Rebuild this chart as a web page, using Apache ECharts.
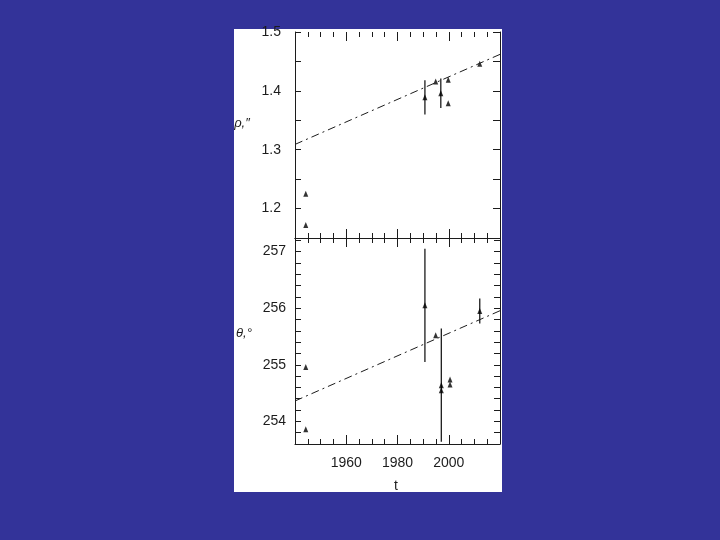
<!DOCTYPE html>
<html>
<head>
<meta charset="utf-8">
<script src="https://cdn.jsdelivr.net/npm/echarts@6/dist/echarts.min.js"></script>
<style>html,body{margin:0;padding:0;background:#333399;}#c{width:720px;height:540px;}</style>
</head>
<body>
<div id="c"></div>
<script>
// ---- data ----
const xTicks = [1960, 1980, 2000];
const rhoTickLabels = [1.2, 1.3, 1.4, 1.5];
const thetaTickLabels = [254, 255, 256, 257];

const rhoYears  = [1944.2, 1944.2, 1990.7, 1994.9, 1996.9, 1999.8, 1999.8, 2012.1];
const rhoValues = [1.225, 1.172, 1.389, 1.416, 1.396, 1.419, 1.379, 1.446];
const rhoErrors = [0, 0, 0.029, 0, 0.025, 0, 0, 0];

const thetaYears  = [1944.2, 1944.2, 1990.7, 1994.9, 1997.1, 1997.1, 2000.5, 2000.5, 2012.1];
const thetaValues = [254.96, 253.86, 256.05, 255.52, 254.64, 254.55, 254.74, 254.65, 255.95];
const thetaErrors = [0, 0, 1.0, 0, 1.0, 0, 0, 0, 0.22];

const fitYears = [1940, 2020];
const rhoFit = [1.309, 1.462];
const thetaFit = [254.36, 255.955];

// ---- chart ----
const ink = '#1c1c1c';
const font = 'Liberation Sans, Arial, sans-serif';
const pairs = (xs, ys) => xs.map((x, i) => [x, ys[i]]);
const triples = (xs, ys, es) => xs.map((x, i) => [x, ys[i], es[i]]).filter(d => d[2] > 0);

function xAxisDef(grid, pos, showLabel, showLine) {
  return {
    type: 'value', gridIndex: grid, position: pos, min: 1940, max: 2020, interval: 20,
    axisLine: {show: showLine, lineStyle: {color: ink, width: 1}},
    axisTick: {show: true, inside: true, length: 9, lineStyle: {color: ink}},
    minorTick: {show: true, splitNumber: 4, length: 5, lineStyle: {color: ink}},
    splitLine: {show: false}, minorSplitLine: {show: false},
    axisLabel: {
      show: showLabel, color: ink, fontSize: 14, fontFamily: font, margin: 12,
      formatter: v => xTicks.indexOf(v) >= 0 ? String(v) : ''
    }
  };
}
function yAxisDef(grid, pos, min, max, interval, tickLen, labels, margin) {
  const a = {
    type: 'value', gridIndex: grid, position: pos, min: min, max: max, interval: interval,
    axisLine: {show: true, lineStyle: {color: ink, width: 1}},
    axisTick: {show: true, inside: true, length: tickLen, lineStyle: {color: ink}},
    splitLine: {show: false},
    axisLabel: {show: false}
  };
  if (labels) {
    a.axisLabel = {
      show: true, color: ink, fontSize: 14, fontFamily: font, margin: margin,
      padding: [5, 0, 0, 0],
      formatter: v => {
        const hit = labels.find(l => Math.abs(l - v) < 1e-6);
        return hit !== undefined ? (Number.isInteger(hit) ? String(hit) : hit.toFixed(1)) : '';
      }
    };
  }
  return a;
}

const errRender = (params, api) => {
  const x = api.value(0), y = api.value(1), e = api.value(2);
  const p1 = api.coord([x, y - e]);
  const p2 = api.coord([x, y + e]);
  return {type: 'line', shape: {x1: p1[0], y1: p1[1], x2: p2[0], y2: p2[1]},
          style: {stroke: ink, lineWidth: 1.3}};
};

const option = {
  backgroundColor: '#333399',
  animation: false,
  graphic: [
    {type: 'rect', z: -10, shape: {x: 234, y: 29, width: 268, height: 463}, style: {fill: '#ffffff'}},
    {type: 'text', style: {text: 'ρ,″', x: 242, y: 123, font: 'italic 13px Liberation Sans, Arial, sans-serif', fill: ink, align: 'center', verticalAlign: 'middle'}},
    {type: 'text', style: {text: 'θ,°', x: 244, y: 333, font: 'italic 13px Liberation Sans, Arial, sans-serif', fill: ink, align: 'center', verticalAlign: 'middle'}},
    {type: 'text', style: {text: 't', x: 396, y: 486, font: '14px Liberation Sans, Arial, sans-serif', fill: ink, align: 'center', verticalAlign: 'middle'}}
  ],
  grid: [
    {left: 295, right: 220, top: 32, height: 206},
    {left: 295, right: 220, top: 238, height: 206}
  ],
  xAxis: [
    xAxisDef(0, 'bottom', false, true),
    xAxisDef(0, 'top', false, false),
    xAxisDef(1, 'bottom', true, true),
    xAxisDef(1, 'top', false, true)
  ],
  yAxis: [
    yAxisDef(0, 'left', 1.15, 1.5, 0.05, 6, rhoTickLabels, 14),
    yAxisDef(0, 'right', 1.15, 1.5, 0.05, 7, null, 0),
    yAxisDef(1, 'left', 253.6, 257.24, 0.2, 6, thetaTickLabels, 9),
    yAxisDef(1, 'right', 253.6, 257.24, 0.2, 6, null, 0)
  ],
  series: [
    {type: 'line', xAxisIndex: 0, yAxisIndex: 0, data: pairs(fitYears, rhoFit), symbol: 'none',
     lineStyle: {color: ink, width: 1, type: [8, 4, 2, 4]}, silent: true},
    {type: 'custom', xAxisIndex: 0, yAxisIndex: 0, data: triples(rhoYears, rhoValues, rhoErrors),
     renderItem: errRender, clip: true, encode: {x: 0, y: 1}},
    {type: 'scatter', xAxisIndex: 0, yAxisIndex: 0, data: pairs(rhoYears, rhoValues),
     symbol: 'triangle', symbolSize: [5, 6], itemStyle: {color: '#000'}},
    {type: 'line', xAxisIndex: 2, yAxisIndex: 2, data: pairs(fitYears, thetaFit), symbol: 'none',
     lineStyle: {color: ink, width: 1, type: [8, 4, 2, 4]}, silent: true},
    {type: 'custom', xAxisIndex: 2, yAxisIndex: 2, data: triples(thetaYears, thetaValues, thetaErrors),
     renderItem: errRender, clip: true, encode: {x: 0, y: 1}},
    {type: 'scatter', xAxisIndex: 2, yAxisIndex: 2, data: pairs(thetaYears, thetaValues),
     symbol: 'triangle', symbolSize: [5, 6], itemStyle: {color: '#000'}}
  ]
};
const chart = echarts.init(document.getElementById('c'));
chart.setOption(option);
</script>
</body>
</html>
